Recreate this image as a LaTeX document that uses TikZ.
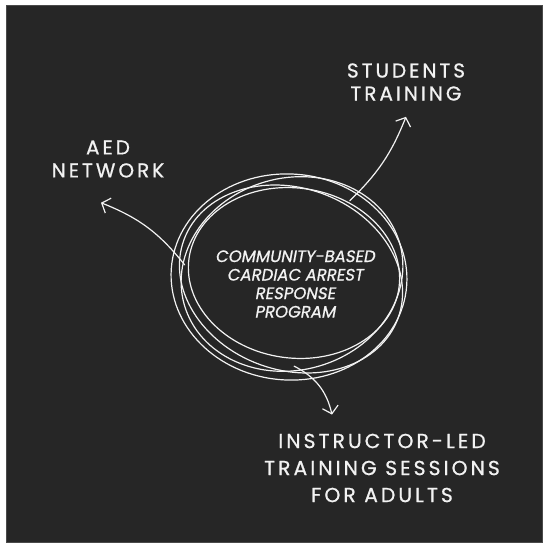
\documentclass[tikz,border=0pt]{standalone}
\usepackage{fontspec}
\setmainfont{Poppins}
\newfontfamily\hubfont[FakeSlant=0.18, FakeBold=0.8]{Poppins}
\newfontfamily\tagfont[LetterSpace=15, FakeBold=0.8]{Poppins}
\usetikzlibrary{arrows.meta, shapes.geometric}
\definecolor{board}{HTML}{262626}
\definecolor{boardedge}{HTML}{4A4A4A}
\definecolor{chalkwhite}{HTML}{F2F2F2}
\tikzset{
  chalk/.style={draw=chalkwhite, line width=1.2pt, line cap=round},
  tag/.style={
    text=chalkwhite, align=center, inner sep=2pt,
    font=\tagfont\fontsize{20}{23}\selectfont
  },
  hubtext/.style={
    text=chalkwhite, align=center, inner sep=2pt,
    font=\hubfont\fontsize{16.5}{18.5}\selectfont
  },
  hub/.style={ellipse, minimum width=214pt, minimum height=180pt, inner sep=0pt},
  arrow/.style={chalk, -{Straight Barb[length=7pt, width=16pt]}}
}
\begin{document}
\begin{tikzpicture}[x=1pt, y=-1pt]
  \useasboundingbox (0,0) rectangle (550,549);
  \fill[white] (0,0) rectangle (550,549);
  \draw[boardedge, fill=board, line width=0.8pt] (6,5) rectangle (542,542);

  \node[hub] (hub) at (291,276) {};
  \node[hubtext] (program) at (295,284) {COMMUNITY-BASED\\CARDIAC ARREST\\RESPONSE\\PROGRAM};

  % sketchy loops round the hub
  \foreach \rx/\ry/\rot/\dx/\dy in {118/103/-4/-2/1, 112/96/16/1/-2, 106/85/-8/3/-3, 114/91/-20/0/3}
    \draw[chalk] ([shift={(\dx,\dy)}]hub.center) ellipse [x radius=\rx, y radius=\ry, rotate=\rot];

  \node[tag] (students) at (406,82) {STUDENTS\\TRAINING};
  \node[tag] (aed) at (108,159) {AED\\NETWORK};
  \node[tag, font=\tagfont\fontsize{20.3}{27}\selectfont] (adults) at (382,468) {INSTRUCTOR-LED\\TRAINING SESSIONS\\FOR ADULTS};

  \draw[arrow] (hub.52) to[bend right=12] ([yshift=-14pt]students.south);
  \draw[arrow] (hub.174) to[bend right=15] ([xshift=-7pt,yshift=-23pt]aed.south);
  \draw[arrow] (hub.-88) to[bend left=25] ([xshift=-50pt,yshift=17pt]adults.north);
\end{tikzpicture}
\end{document}
